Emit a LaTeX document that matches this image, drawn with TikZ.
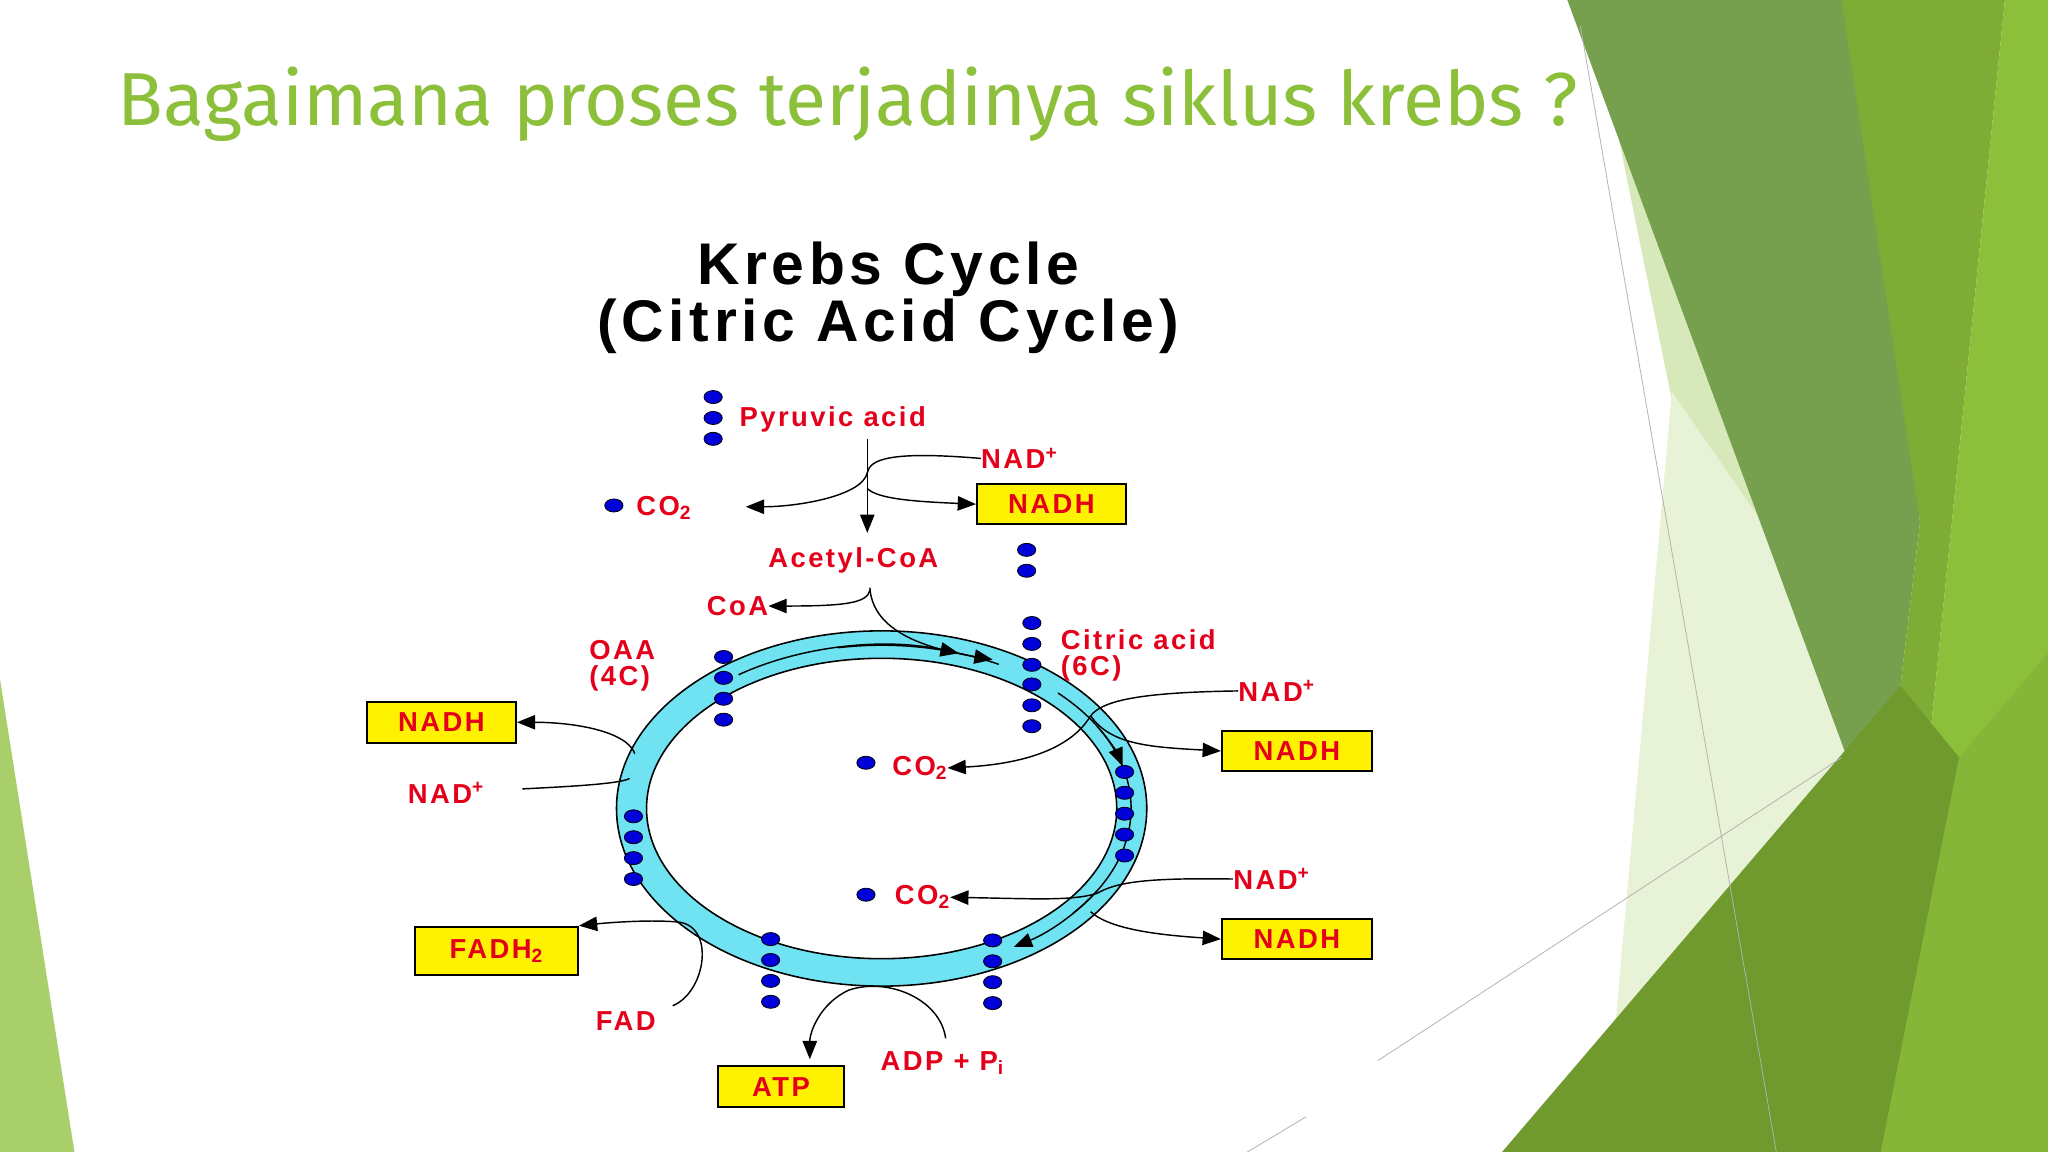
\documentclass[tikz,border=0pt]{standalone}
\usepackage{fontspec}
\setmainfont{Liberation Sans}
\newfontfamily\titlefont{Fira Sans}
\newfontfamily\labfont[LetterSpace=9]{Liberation Sans}
\newfontfamily\headfont[LetterSpace=8]{Liberation Sans}
\usetikzlibrary{arrows.meta,shapes.geometric}
\definecolor{tgreen}{HTML}{8CBF3A}
\definecolor{dgreen}{HTML}{76A04E}
\definecolor{lred}{HTML}{E4001B}
\definecolor{cyanring}{HTML}{6FE3F2}
\tikzset{
  lab/.style={text=lred,font=\labfont\fontsize{21}{26}\selectfont\bfseries,inner sep=0pt,anchor=west},
  ybox/.style={draw=black,line width=1.5pt,fill=yellow,text=lred,font=\labfont\fontsize{21}{22}\selectfont\bfseries,minimum height=31pt,inner sep=0pt},
  dot/.style={ellipse,draw=black,line width=0.6pt,fill=blue!85!black,minimum width=14pt,minimum height=10pt,inner sep=0pt},
  con/.style={line width=1.1pt},
  arr/.style={line width=1.1pt,-{Triangle[length=14pt,width=11pt]}}
}
\begin{document}
\begin{tikzpicture}[x=1pt,y=-1pt]
\useasboundingbox (0,0) rectangle (1568,882);
\fill[white] (0,0) rectangle (1568,882);
% decoration
\fill[tgreen!75!white] (0,520) -- (57,882) -- (0,882) -- cycle;
\fill[tgreen!35!white] (1230,60) -- (1400,0) -- (1460,560) -- (1360,700) -- cycle;
\fill[tgreen!20!white] (1280,300) -- (1460,560) -- (1230,860) -- cycle;
\fill[dgreen] (1200,0) -- (1420,0) -- (1470,400) -- (1440,650) -- cycle;
\fill[tgreen!90!black] (1410,0) -- (1535,0) -- (1470,640) -- (1440,650) -- (1470,400) -- cycle;
\fill[tgreen] (1535,0) -- (1568,0) -- (1568,882) -- (1430,882) -- (1470,640) -- cycle;
\fill[tgreen!80!black] (1150,882) -- (1455,525) -- (1500,580) -- (1440,882) -- cycle;
\fill[tgreen!95!black] (1440,882) -- (1500,580) -- (1568,500) -- (1568,882) -- cycle;
\draw[gray!60,line width=0.6pt] (1210,20) -- (1360,882);
\draw[gray!60,line width=0.6pt] (1055,812) -- (1410,580);
\draw[gray!60,line width=0.6pt] (955,882) -- (1000,855);
% title
\node[anchor=west,text=tgreen,font=\titlefont\fontsize{57.5}{60}\selectfont,inner sep=0pt] (title) at (90,80) {Bagaimana proses terjadinya siklus krebs ?};
\node[font=\headfont\fontsize{45}{44}\selectfont\bfseries,align=center,inner sep=0pt] (kc) at (680,228) {Krebs Cycle\\(Citric Acid Cycle)};
% ring
\fill[cyanring,draw=black,line width=1.2pt,even odd rule] (675,619) ellipse [x radius=203,y radius=136] (675,619) ellipse [x radius=180,y radius=115];
\draw[con] (675,619) ++(-100:191 and 125) arc[start angle=-100,end angle=-62,x radius=191,y radius=125];
\draw[con] (675,619) ++(-45:191 and 125) arc[start angle=-45,end angle=40,x radius=191,y radius=125];
\draw[arr] (675,619) ++(-125:191 and 125) arc[start angle=-125,end angle=-72,x radius=191,y radius=125];
\draw[arr] (675,619) ++(-30:191 and 125) arc[start angle=-30,end angle=-15,x radius=191,y radius=125];
\draw[arr] (675,619) ++(30:191 and 125) arc[start angle=30,end angle=58,x radius=191,y radius=125];
% dots
\foreach \y [count=\i] in {304,320,336} \node[dot] (p\i) at (546,\y) {};
\foreach \y [count=\i] in {421,437} \node[dot] (a\i) at (786,\y) {};
\foreach \y [count=\i] in {477,493,509,524,540,556} \node[dot] (c\i) at (790,\y) {};
\foreach \y [count=\i] in {503,519,535,551} \node[dot] (o\i) at (554,\y) {};
\foreach \y [count=\i] in {591,607,623,639,655} \node[dot] (r\i) at (861,\y) {};
\foreach \y [count=\i] in {625,641,657,673} \node[dot] (l\i) at (485,\y) {};
\foreach \y [count=\i] in {719,735,751,767} \node[dot] (bl\i) at (590,\y) {};
\foreach \y [count=\i] in {720,736,752,768} \node[dot] (br\i) at (760,\y) {};
\node[dot] (d1) at (470,387) {};
\node[dot] (d2) at (663,584) {};
\node[dot] (d3) at (663,685) {};
% labels
\node[lab] (pyr) at (566,321) {Pyruvic acid};
\node[lab] (nad1) at (751,351) {NAD\textsuperscript{+}};
\node[ybox,minimum width=114pt] (nadh1) at (805,386) {NADH};
\node[lab] (co21) at (487,389) {CO\textsubscript{2}};
\node[lab] (acoa) at (588,429) {Acetyl-CoA};
\node[lab] (coa) at (541,464) {CoA};
\node[lab,align=left,anchor=north west] (cit) at (812,482) {Citric acid\\[-6pt](6C)};
\node[lab,align=left,anchor=north west] (oaa) at (451,490) {OAA\\[-6pt](4C)};
\node[ybox,minimum width=114pt] (nadh2) at (338,553) {NADH};
\node[lab] (nad2) at (312,607) {NAD\textsuperscript{+}};
\node[lab] (nad3) at (948,529) {NAD\textsuperscript{+}};
\node[ybox,minimum width=115pt] (nadh3) at (993,575) {NADH};
\node[lab] (co22) at (683,588) {CO\textsubscript{2}};
\node[lab] (nad4) at (944,673) {NAD\textsuperscript{+}};
\node[ybox,minimum width=115pt] (nadh4) at (993,719) {NADH};
\node[lab] (co23) at (685,687) {CO\textsubscript{2}};
\node[ybox,minimum width=125pt,minimum height=37pt] (fadh) at (380,728) {FADH\textsubscript{2}};
\node[lab] (fad) at (456,782) {FAD};
\node[ybox,minimum width=96pt] (atp) at (598,832) {ATP};
\node[lab] (adp) at (674,814) {ADP + P\textsubscript{i}};
% connectors
\coordinate (t1) at (664,336);
\coordinate (t2) at (664,408);
\coordinate (x1) at (571,388);
\draw[arr] (t1) -- (t2);
\draw[arr] (nad1.west) .. controls (680,345) and (666,352) .. (664,362) .. controls (660,380) and (610,388) .. (x1);
\draw[arr] (664,374) .. controls (672,382) and (700,384) .. (nadh1.west);
\draw[arr] (666,450) .. controls (668,480) and (700,495) .. (760,505);
\draw[arr] (666,452) .. controls (664,462) and (645,464) .. (coa.east);
\draw[con] (nad3.west) .. controls (880,530) and (845,535) .. (835,548);
\draw[arr] (835,548) .. controls (825,565) and (800,584) .. (co22.east);
\draw[arr] (835,548) .. controls (850,570) and (880,572) .. (nadh3.west);
\draw[con] (nad4.west) .. controls (880,672) and (855,675) .. (840,684);
\draw[arr] (840,684) .. controls (820,690) and (790,688) .. (co23.east);
\draw[arr] (835,698) .. controls (850,712) and (890,716) .. (nadh4.west);
\draw[arr] (486,577) .. controls (480,560) and (440,553) .. (nadh2.east);
\draw[con] (400,604) .. controls (440,602) and (475,600) .. (482,596);
\draw[con] (515,770) .. controls (540,760) and (548,710) .. (520,706);
\draw[arr] (520,706) .. controls (500,704) and (470,706) .. (fadh.north east);
\draw[arr] (724,795) .. controls (720,765) and (680,748) .. (650,758) .. controls (628,768) and (620,790) .. (620,811);
\end{tikzpicture}
\end{document}
